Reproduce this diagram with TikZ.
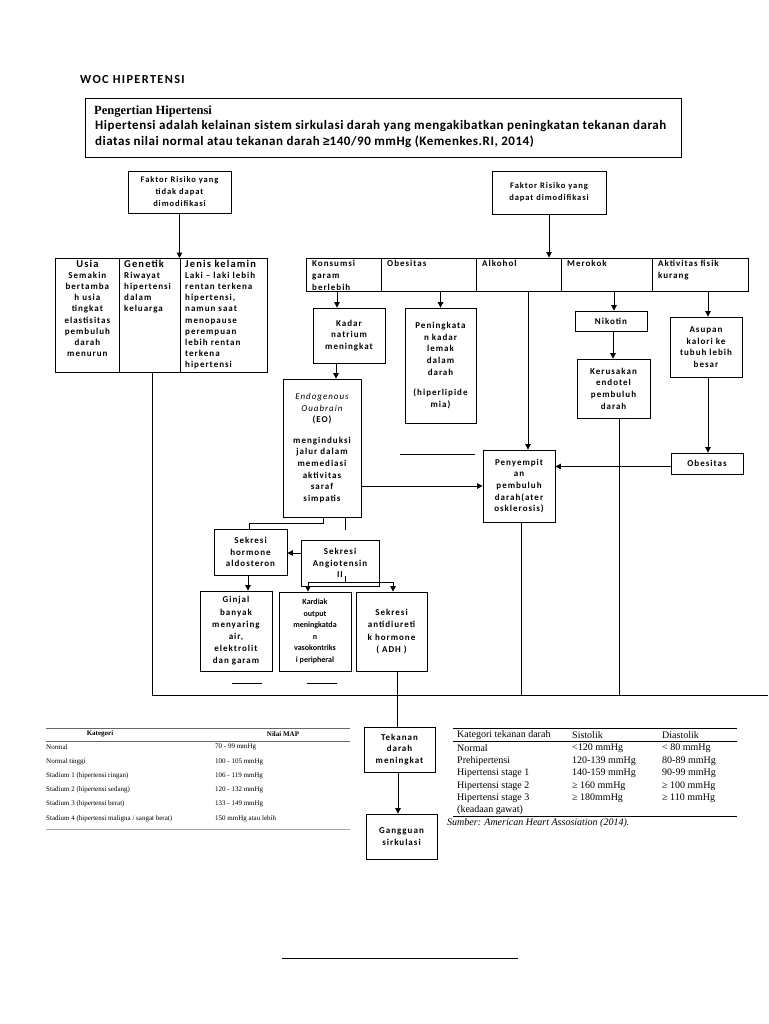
\documentclass[tikz,border=0pt]{standalone}
\usepackage{fontspec}
\setmainfont{Carlito}
\newfontfamily\boxf[LetterSpace=11]{Carlito}
\newfontfamily\titf[LetterSpace=11]{Carlito}
\newfontfamily\deff[LetterSpace=4]{Carlito}
\newfontfamily\tnr{Liberation Serif}
\newfontfamily\lsans{Liberation Sans}
\usetikzlibrary{arrows.meta}
\tikzset{
  bx/.style={draw, line width=0.8pt, align=center, inner sep=1pt,
    font=\boxf\bfseries\fontsize{9}{11.6}\selectfont},
  cell/.style={draw, line width=0.8pt, anchor=north west, inner sep=0pt},
  ctext/.style={anchor=north west, align=left, inner sep=0pt,
    font=\boxf\bfseries\fontsize{9}{12}\selectfont},
  arr/.style={line width=0.8pt, -{Triangle[length=5.5pt,width=5.5pt]}},
  ln/.style={line width=0.8pt},
  tbl/.style={anchor=west, inner sep=0pt, font=\tnr\fontsize{7}{8}\selectfont},
  tbr/.style={anchor=west, inner sep=0pt, font=\tnr\fontsize{10}{11}\selectfont},
}
\begin{document}
\begin{tikzpicture}[x=1pt,y=-1pt]
\useasboundingbox[fill=white] (0,0) rectangle (768,1024);

% title and definition
\node[anchor=west, inner sep=0pt, font=\titf\bfseries\fontsize{12.3}{13}\selectfont] (title) at (80,80) {WOC HIPERTENSI};
\node[draw, line width=1pt, anchor=north west, minimum width=596, minimum height=59, inner sep=0pt] (def) at (85,98) {};
\node[anchor=west, inner sep=0pt, font=\tnr\bfseries\fontsize{12.5}{14}\selectfont] (deft) at (94,112) {Pengertian Hipertensi};
\node[anchor=north west, align=left, inner sep=0pt, font=\deff\bfseries\fontsize{13}{16}\selectfont] (defb) at (95,120) {Hipertensi adalah kelainan sistem sirkulasi darah yang mengakibatkan peningkatan tekanan darah\\diatas nilai normal atau tekanan darah {\lsans\fontsize{12}{16}\selectfont ≥}140/90 mmHg (Kemenkes.RI, 2014)};

% risk factors
\node[bx, minimum width=103, minimum height=42, font=\boxf\bfseries\fontsize{8.5}{12}\selectfont] (f1) at (179.5,192) {Faktor Risiko yang\\tidak dapat\\dimodifikasi};
\node[bx, minimum width=114, minimum height=43, font=\boxf\bfseries\fontsize{8.5}{12}\selectfont] (f2) at (549,192.5) {Faktor Risiko yang\\dapat dimodifikasi};

% left row
\node[cell, minimum width=64, minimum height=114] (usia) at (55,258) {};
\node[cell, minimum width=61, minimum height=114] (gen) at (119,258) {};
\node[cell, minimum width=87, minimum height=114] (jk) at (180,258) {};
\node[ctext, anchor=north, align=center, font=\boxf\bfseries\fontsize{9}{11.1}\selectfont] (usiat) at ([yshift=-2]usia.north) {{\fontsize{10.5}{11.1}\selectfont Usia}\\Semakin\\bertamba\\h usia\\tingkat\\elastisitas\\pembuluh\\darah\\menurun};
\node[ctext, font=\boxf\bfseries\fontsize{9}{11.1}\selectfont] (gent) at ([xshift=5,yshift=-2]gen.north west) {{\fontsize{10.5}{11.1}\selectfont Genetik}\\Riwayat\\hipertensi\\dalam\\keluarga};
\node[ctext, font=\boxf\bfseries\fontsize{9}{11.1}\selectfont] (jkt) at ([xshift=5,yshift=-2]jk.north west) {{\fontsize{10.5}{11.1}\selectfont Jenis kelamin}\\Laki – laki lebih\\rentan terkena\\hipertensi,\\namun saat\\menopause\\perempuan\\lebih rentan\\terkena\\hipertensi};

% right row
\node[cell, minimum width=75, minimum height=33.5] (kons) at (306,257.5) {};
\node[cell, minimum width=95, minimum height=33.5] (obes) at (381,257.5) {};
\node[cell, minimum width=85, minimum height=33.5] (alk) at (476,257.5) {};
\node[cell, minimum width=91, minimum height=33.5] (mer) at (561,257.5) {};
\node[cell, minimum width=96, minimum height=33.5] (akt) at (652,257.5) {};
\node[ctext] (konst) at ([xshift=6,yshift=-2]kons.north west) {Konsumsi\\garam\\berlebih};
\node[ctext] (obest) at ([xshift=6,yshift=-2]obes.north west) {Obesitas};
\node[ctext] (alkt) at ([xshift=6,yshift=-2]alk.north west) {Alkohol};
\node[ctext] (mert) at ([xshift=6,yshift=-2]mer.north west) {Merokok};
\node[ctext] (aktt) at ([xshift=6,yshift=-2]akt.north west) {Aktivitas fisik\\kurang};

% middle boxes
\node[bx, minimum width=72, minimum height=55] (kadar) at (349,335.5) {Kadar\\natrium\\meningkat};
\node[bx, minimum width=71, minimum height=115] (pen) at (440.5,365.5) {Peningkata\\n kadar\\lemak\\dalam\\darah\\[9pt](hiperlipide\\mia)};
\node[bx, minimum width=78, minimum height=138] (endo) at (322,448) {{\mdseries\itshape Endogenous}\\{\mdseries\itshape Ouabrain}\\(EO)\\[9pt]menginduksi\\jalur dalam\\memediasi\\aktivitas\\saraf\\simpatis};
\node[bx, minimum width=72, minimum height=72] (peny) at (519,486) {Penyempit\\an\\pembuluh\\darah(ater\\osklerosis)};
\node[bx, minimum width=72, minimum height=20] (nik) at (611,321) {Nikotin};
\node[bx, minimum width=73, minimum height=59] (ker) at (613.5,388.5) {Kerusakan\\endotel\\pembuluh\\darah};
\node[bx, minimum width=72, minimum height=60] (asu) at (706,347) {Asupan\\kalori ke\\tubuh lebih\\besar};
\node[bx, minimum width=72, minimum height=21] (ob2) at (707,463.5) {Obesitas};

% lower boxes
\node[bx, minimum width=73, minimum height=46] (aldo) at (250.5,552) {Sekresi\\hormone\\aldosteron};
\node[bx, minimum width=78, minimum height=46] (ang) at (340,563) {Sekresi\\Angiotensin\\II};
\node[bx, minimum width=72, minimum height=80, font=\boxf\bfseries\fontsize{9}{12.2}\selectfont] (gin) at (236,631) {Ginjal\\banyak\\menyaring\\air,\\elektrolit\\dan garam};
\node[bx, minimum width=72, minimum height=79, font=\bfseries\fontsize{8}{11.5}\selectfont] (kar) at (315,631.5) {Kardiak\\output\\meningkatda\\n\\vasokontriks\\i peripheral};
\node[bx, minimum width=71, minimum height=79, font=\boxf\bfseries\fontsize{9}{12.3}\selectfont] (adh) at (391.5,631.5) {Sekresi\\antidiureti\\k hormone\\( ADH )};
\node[bx, minimum width=71, minimum height=45] (tek) at (399.5,749.5) {Tekanan\\darah\\meningkat};
\node[bx, minimum width=71, minimum height=45] (gang) at (401.5,836.5) {Gangguan\\sirkulasi};

% connectors
\draw[arr] (f1.south) -- (f1.south |- gen.north);
\draw[arr] (f2.south) -- (f2.south |- alk.north);
\draw[arr] ([xshift=-12]kadar.north |- kons.south) -- ([xshift=-12]kadar.north);
\draw[arr] (pen.north |- obes.south) -- (pen.north);
\draw[arr] ([xshift=9]peny.north |- alk.south) -- ([xshift=9]peny.north);
\draw[arr] ([xshift=3]nik.north |- mer.south) -- ([xshift=3]nik.north);
\draw[arr] ([xshift=2]nik.south) -- ([xshift=2]nik.south |- ker.north);
\draw[arr] ([xshift=2]asu.north |- akt.south) -- ([xshift=2]asu.north);
\draw[arr] ([xshift=-13]kadar.south) -- ([xshift=-13]kadar.south |- endo.north);
\draw[arr] (endo.east |- peny.west) -- (peny.west);
\draw[arr] ([xshift=2]asu.south) -- ([xshift=2]asu.south |- ob2.north);
\draw[arr] ([yshift=-3]ob2.west) -- ([yshift=-3]ob2.west -| peny.east);
\coordinate (s1) at (400,454);
\coordinate (s2) at (475,454);
\draw[ln] (s1) -- (s2);

\coordinate (ey) at (0,523);
\draw[ln] ([xshift=1]endo.south) -- ([xshift=1]endo.south |- ey) -- ([xshift=-1.5]aldo.north |- ey) -- ([xshift=-1.5]aldo.north);
\draw[ln] ([xshift=23]endo.south) -- ++(0,13);
\draw[arr] ([yshift=10]ang.west) -- ([yshift=10]ang.west -| aldo.east);
\draw[arr] ([xshift=-2.5]aldo.south) -- ([xshift=-2.5]aldo.south |- gin.north);
\coordinate (abr) at ([yshift=4]ang.south);
\draw[ln] ([xshift=5,yshift=10]ang.south) -- ([xshift=5]abr);
\draw[ln] ([xshift=-7]kar.north |- abr) -- ([xshift=1.5]adh.north |- abr);
\draw[arr] ([xshift=-7]kar.north |- abr) -- ([xshift=-7]kar.north);
\draw[arr] ([xshift=1.5]adh.north |- abr) -- ([xshift=1.5]adh.north);

\coordinate (u1) at (232,683); \coordinate (u2) at (262,683);
\coordinate (u3) at (307,683); \coordinate (u4) at (337,683);
\draw[ln] (u1) -- (u2);
\draw[ln] (u3) -- (u4);

\coordinate (L1) at (152,695);
\coordinate (L2) at (768,695);
\draw[ln] (gen.south -| L1) -- (L1) -- (L2);
\draw[ln] ([xshift=2]peny.south) -- ([xshift=2]peny.south |- L1);
\draw[ln] ([xshift=5.5]ker.south) -- ([xshift=5.5]ker.south |- L1);
\draw[ln] ([xshift=5.5]adh.south) -- ([xshift=5.5]adh.south |- tek.north);
\draw[arr] ([xshift=-1.5]tek.south) -- ([xshift=-1.5]tek.south |- gang.north);

% left table
\draw[line width=0.9pt, black!60] (46,728) -- (350,728);
\draw[line width=0.9pt, black!60] (46,741) -- (350,741);
\draw[line width=0.5pt, black!35] (46,829) -- (350,829);
\node[tbl, anchor=center, font=\tnr\bfseries\fontsize{7}{8}\selectfont] (kh) at (100,734) {Kategori};
\node[tbl, anchor=center, font=\tnr\bfseries\fontsize{7}{8}\selectfont] (mh) at (283,734) {Nilai MAP};
\node[tbl] (k1) at (46,747) {Normal};
\node[tbl] (k2) at (46,762) {Normal tinggi};
\node[tbl] (k3) at (46,776) {Stadium 1 (hipertensi ringan)};
\node[tbl] (k4) at (46,790) {Stadium 2 (hipertensi sedang)};
\node[tbl] (k5) at (46,804) {Stadium 3 (hipertensi berat)};
\node[tbl] (k6) at (46,819) {Stadium 4 (hipertensi maligna / sangat berat)};
\node[tbl] (m1) at (215,747) {70 - 99 mmHg};
\node[tbl] (m2) at (215,762) {100 - 105 mmHg};
\node[tbl] (m3) at (215,776) {106 - 119 mmHg};
\node[tbl] (m4) at (215,790) {120 - 132 mmHg};
\node[tbl] (m5) at (215,804) {133 - 149 mmHg};
\node[tbl] (m6) at (215,819) {150 mmHg atau lebih};

% right table
\draw[line width=0.8pt] (453,728.5) -- (737,728.5);
\draw[line width=0.8pt] (453,741.5) -- (737,741.5);
\draw[line width=0.8pt] (453,816) -- (737,816);
\node[tbr] (h1) at (457,735) {Kategori tekanan darah};
\node[tbr] (h2) at (572,735) {Sistolik};
\node[tbr] (h3) at (662,735) {Diastolik};
\node[tbr] (r1) at (457,748.5) {Normal};
\node[tbr] (r2) at (457,761) {Prehipertensi};
\node[tbr] (r3) at (457,773.5) {Hipertensi stage 1};
\node[tbr] (r4) at (457,786) {Hipertensi stage 2};
\node[tbr] (r5) at (457,798) {Hipertensi stage 3};
\node[tbr] (r6) at (457,810) {(keadaan gawat)};
\node[tbr] (s1t) at (572,748.5) {<120 mmHg};
\node[tbr] (s2t) at (572,761) {120-139 mmHg};
\node[tbr] (s3t) at (572,773.5) {140-159 mmHg};
\node[tbr] (s4t) at (572,786) {≥ 160 mmHg};
\node[tbr] (s5t) at (572,798) {≥ 180mmHg};
\node[tbr] (d1t) at (662,748.5) {< 80 mmHg};
\node[tbr] (d2t) at (662,761) {80-89 mmHg};
\node[tbr] (d3t) at (662,773.5) {90-99 mmHg};
\node[tbr] (d4t) at (662,786) {≥ 100 mmHg};
\node[tbr] (d5t) at (662,798) {≥ 110 mmHg};
\node[tbr, font=\tnr\itshape\fontsize{10}{11}\selectfont] (src) at (447,823.5) {Sumber: American Heart Assosiation (2014).};

% bottom line
\coordinate (b1) at (282,958);
\coordinate (b2) at (518,958);
\draw[line width=0.8pt] (b1) -- (b2);
\end{tikzpicture}
\end{document}
